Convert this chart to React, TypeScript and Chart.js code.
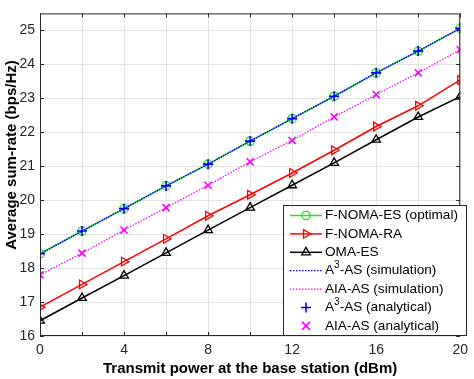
import React, { useEffect, useRef } from "react";
import { Chart, registerables } from "chart.js";

Chart.register(...registerables);

const powerDbm = [0, 2, 4, 6, 8, 10, 12, 14, 16, 18, 20];
const fnomaES = [18.42, 19.09, 19.75, 20.42, 21.06, 21.74, 22.4, 23.06, 23.75, 24.39, 25.06];
const fnomaRA = [16.85, 17.52, 18.19, 18.86, 19.54, 20.16, 20.8, 21.47, 22.17, 22.78, 23.54];
const omaES = [16.45, 17.12, 17.78, 18.45, 19.12, 19.78, 20.44, 21.1, 21.78, 22.45, 23.05];
const a3Sim = [18.42, 19.09, 19.75, 20.42, 21.06, 21.74, 22.4, 23.06, 23.75, 24.39, 25.06];
const aiaSim = [17.8, 18.44, 19.12, 19.78, 20.44, 21.13, 21.76, 22.45, 23.11, 23.75, 24.43];
const a3Ana = [18.42, 19.09, 19.75, 20.42, 21.06, 21.74, 22.4, 23.06, 23.75, 24.39, 25.06];
const aiaAna = [17.8, 18.44, 19.12, 19.78, 20.44, 21.13, 21.76, 22.45, 23.11, 23.75, 24.43];

const xTicks = [0, 2, 4, 6, 8, 10, 12, 14, 16, 18, 20];
const yTicks = [16, 17, 18, 19, 20, 21, 22, 23, 24, 25];

const xTitle = "Transmit power at the base station (dBm)";
const yTitle = "Average sum-rate (bps/Hz)";

const GREEN = "#22e022";
const RED = "#ff0000";
const BLACK = "#000000";
const BLUE = "#0000ff";
const MAGENTA = "#ff00ff";
const AXIS = "#262626";
const FONT = "'Liberation Sans', Arial, sans-serif";

const pts = (ys: number[]) => ys.map((y, i) => ({ x: powerDbm[i], y }));

type LegendItem = {
  label: string;
  sup?: boolean;
  rest?: string;
  color: string;
  line: boolean;
  dash?: number[];
  marker?: string;
  rotation?: number;
  radius?: number;
};

const legendItems: LegendItem[] = [
  { label: "F-NOMA-ES (optimal)", color: GREEN, line: true, marker: "circle", radius: 4.2 },
  { label: "F-NOMA-RA", color: RED, line: true, marker: "triangle", rotation: 90, radius: 5 },
  { label: "OMA-ES", color: BLACK, line: true, marker: "triangle", radius: 5 },
  { label: "A", sup: true, rest: "-AS (simulation)", color: BLUE, line: true, dash: [1.5, 1.5] },
  { label: "AIA-AS (simulation)", color: MAGENTA, line: true, dash: [1.5, 1.5] },
  { label: "A", sup: true, rest: "-AS (analytical)", color: BLUE, line: false, marker: "cross", radius: 5 },
  { label: "AIA-AS (analytical)", color: MAGENTA, line: false, marker: "crossRot", radius: 5 },
];

function drawMarker(ctx: CanvasRenderingContext2D, kind: string, x: number, y: number, r: number, rot: number, color: string) {
  ctx.save();
  ctx.translate(x, y);
  ctx.rotate((rot * Math.PI) / 180);
  ctx.strokeStyle = color;
  ctx.lineWidth = 1.3;
  ctx.setLineDash([]);
  ctx.beginPath();
  if (kind === "circle") {
    ctx.arc(0, 0, r, 0, Math.PI * 2);
  } else if (kind === "triangle") {
    for (let k = 0; k < 3; k++) {
      const a = -Math.PI / 2 + (k * 2 * Math.PI) / 3;
      const px = Math.cos(a) * r;
      const py = Math.sin(a) * r;
      if (k === 0) ctx.moveTo(px, py);
      else ctx.lineTo(px, py);
    }
    ctx.closePath();
  } else if (kind === "cross") {
    ctx.lineWidth = 1.6;
    ctx.moveTo(-r, 0);
    ctx.lineTo(r, 0);
    ctx.moveTo(0, -r);
    ctx.lineTo(0, r);
  } else if (kind === "crossRot") {
    ctx.lineWidth = 1.6;
    const d = r * 0.8;
    ctx.moveTo(-d, -d);
    ctx.lineTo(d, d);
    ctx.moveTo(d, -d);
    ctx.lineTo(-d, d);
  }
  ctx.stroke();
  ctx.restore();
}

const framePlugin = {
  id: "frameAndLegend",
  afterDraw(chart: any) {
    const ctx: CanvasRenderingContext2D = chart.ctx;
    const { left, right, top, bottom } = chart.chartArea;
    const xs = chart.scales.x;
    const ys = chart.scales.y;
    ctx.save();
    ctx.strokeStyle = AXIS;
    ctx.lineWidth = 1;
    ctx.setLineDash([]);
    ctx.strokeRect(left + 0.5, top + 0.5, right - left - 1, bottom - top - 1);
    ctx.beginPath();
    const tl = 4;
    xTicks.forEach((v) => {
      const px = Math.round(xs.getPixelForValue(v)) + 0.5;
      ctx.moveTo(px, bottom);
      ctx.lineTo(px, bottom - tl);
      ctx.moveTo(px, top);
      ctx.lineTo(px, top + tl);
    });
    yTicks.forEach((v) => {
      const py = Math.round(ys.getPixelForValue(v)) + 0.5;
      ctx.moveTo(left, py);
      ctx.lineTo(left + tl, py);
      ctx.moveTo(right, py);
      ctx.lineTo(right - tl, py);
    });
    ctx.stroke();

    // y axis title
    ctx.save();
    ctx.translate(12, 155);
    ctx.rotate(-Math.PI / 2);
    ctx.fillStyle = "#000000";
    ctx.font = `bold 15px ${FONT}`;
    ctx.textAlign = "center";
    ctx.textBaseline = "middle";
    ctx.fillText(yTitle, 0, 0);
    ctx.restore();

    // legend
    const bx = 283.5, by = 205.5, bw = 183, bh = 130;
    ctx.fillStyle = "#ffffff";
    ctx.fillRect(bx, by, bw, bh);
    ctx.strokeStyle = AXIS;
    ctx.lineWidth = 1;
    ctx.strokeRect(bx, by, bw, bh);
    legendItems.forEach((it, i) => {
      const yy = 215.5 + i * 18.4;
      if (it.line) {
        ctx.save();
        ctx.strokeStyle = it.color;
        ctx.lineWidth = it.dash ? 1.3 : 1.5;
        ctx.setLineDash(it.dash || []);
        ctx.beginPath();
        ctx.moveTo(290, yy);
        ctx.lineTo(322, yy);
        ctx.stroke();
        ctx.restore();
      }
      if (it.marker) drawMarker(ctx, it.marker, 306, yy, it.radius || 4, it.rotation || 0, it.color);
      ctx.fillStyle = "#000000";
      ctx.textBaseline = "middle";
      ctx.textAlign = "left";
      ctx.font = `13.6px ${FONT}`;
      let tx = 325;
      ctx.fillText(it.label, tx, yy);
      if (it.sup) {
        tx += ctx.measureText(it.label).width;
        ctx.font = `10px ${FONT}`;
        ctx.fillText("3", tx, yy - 5);
        tx += ctx.measureText("3").width;
        ctx.font = `13.6px ${FONT}`;
        ctx.fillText(it.rest || "", tx, yy);
      }
    });
    ctx.restore();
  },
};

export default function App() {
  const ref = useRef<HTMLCanvasElement | null>(null);
  useEffect(() => {
    if (!ref.current) return;
    const chart = new Chart(ref.current, {
      type: "line",
      data: {
        datasets: [
          {
            label: "F-NOMA-ES (optimal)",
            data: pts(fnomaES),
            borderColor: GREEN,
            borderWidth: 1.5,
            pointStyle: "circle",
            pointRadius: 4.2,
            pointBorderWidth: 1.3,
            pointBorderColor: GREEN,
            pointBackgroundColor: "rgba(0,0,0,0)",
            order: 3,
          },
          {
            label: "F-NOMA-RA",
            data: pts(fnomaRA),
            borderColor: RED,
            borderWidth: 1.5,
            pointStyle: "triangle",
            pointRotation: 90,
            pointRadius: 5,
            pointBorderWidth: 1.3,
            pointBorderColor: RED,
            pointBackgroundColor: "rgba(0,0,0,0)",
            order: 3,
          },
          {
            label: "OMA-ES",
            data: pts(omaES),
            borderColor: BLACK,
            borderWidth: 1.5,
            pointStyle: "triangle",
            pointRadius: 5,
            pointBorderWidth: 1.3,
            pointBorderColor: BLACK,
            pointBackgroundColor: "rgba(0,0,0,0)",
            order: 3,
          },
          {
            label: "A3-AS (simulation)",
            data: pts(a3Sim),
            borderColor: BLUE,
            borderWidth: 1.5,
            borderDash: [1.5, 1],
            pointRadius: 0,
            order: 2,
          },
          {
            label: "AIA-AS (simulation)",
            data: pts(aiaSim),
            borderColor: MAGENTA,
            borderWidth: 1.3,
            borderDash: [1.5, 1.5],
            pointRadius: 0,
            order: 2,
          },
          {
            label: "A3-AS (analytical)",
            data: pts(a3Ana),
            showLine: false,
            pointStyle: "cross",
            pointRadius: 5,
            pointBorderWidth: 1.6,
            pointBorderColor: BLUE,
            borderColor: BLUE,
            order: 1,
          },
          {
            label: "AIA-AS (analytical)",
            data: pts(aiaAna),
            showLine: false,
            pointStyle: "crossRot",
            pointRadius: 5,
            pointBorderWidth: 1.6,
            pointBorderColor: MAGENTA,
            borderColor: MAGENTA,
            order: 1,
          },
        ],
      },
      options: {
        animation: false,
        responsive: false,
        maintainAspectRatio: false,
        layout: { padding: { top: 1, right: 7, left: 0, bottom: 0 } },
        plugins: { legend: { display: false }, tooltip: { enabled: false } },
        scales: {
          x: {
            type: "linear",
            min: 0,
            max: 20,
            afterBuildTicks: (s: any) => {
              s.ticks = xTicks.map((v) => ({ value: v }));
            },
            afterFit: (s: any) => {
              s.height = 43;
            },
            ticks: {
              autoSkip: false,
              maxRotation: 0,
              padding: 6,
              color: AXIS,
              font: { family: FONT, size: 14 },
              callback: (v: any) => (Number(v) % 4 === 0 ? String(v) : ""),
            },
            grid: { color: "#e3e3e3", drawTicks: false, lineWidth: 1 },
            border: { display: false },
            title: {
              display: true,
              text: xTitle,
              color: "#000000",
              font: { family: FONT, size: 15, weight: "bold" },
              padding: { top: 0, bottom: 1 },
            },
          },
          y: {
            type: "linear",
            min: 16,
            max: 25.5,
            afterBuildTicks: (s: any) => {
              s.ticks = yTicks.map((v) => ({ value: v }));
            },
            afterFit: (s: any) => {
              s.width = 40;
            },
            ticks: {
              autoSkip: false,
              padding: 5,
              color: AXIS,
              font: { family: FONT, size: 14 },
            },
            grid: { color: "#e3e3e3", drawTicks: false, lineWidth: 1 },
            border: { display: false },
            title: { display: false },
          },
        },
      },
      plugins: [framePlugin],
    } as any);
    return () => chart.destroy();
  }, []);
  return (
    <div style={{ position: "fixed", left: 0, top: 0, width: 474, height: 379, background: "#fff" }}>
      <canvas ref={ref} width={474} height={379} />
    </div>
  );
}
